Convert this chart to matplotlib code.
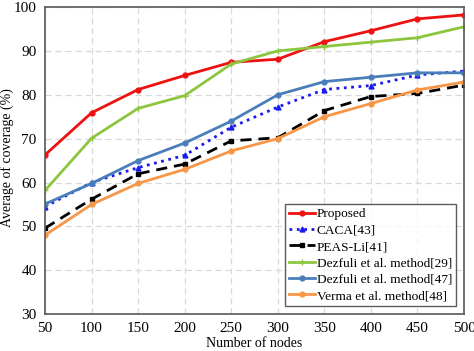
import matplotlib
matplotlib.use("Agg")
import matplotlib.pyplot as plt

plt.rcParams["font.family"] = ["Liberation Serif", "DejaVu Serif"]

nodes = [50, 100, 150, 200, 250, 300, 350, 400, 450, 500]
proposed = [66.3, 75.9, 81.2, 84.4, 87.4, 88.1, 92.1, 94.6, 97.3, 98.2]
caca = [54.5, 60.0, 63.4, 66.2, 72.6, 77.2, 81.2, 82.1, 84.5, 85.4]
peas = [49.6, 56.2, 62.0, 64.2, 69.5, 70.2, 76.4, 79.6, 80.3, 82.2]
dezfuli29 = [58.2, 70.1, 76.9, 79.8, 87.0, 90.0, 91.0, 92.0, 93.0, 95.5]
dezfuli47 = [55.1, 59.8, 65.0, 69.0, 74.0, 80.0, 83.0, 84.0, 85.0, 85.0]
verma = [48.0, 55.0, 59.8, 63.0, 67.2, 70.0, 75.0, 78.0, 81.1, 82.9]

fig = plt.figure(figsize=(4.74, 3.51), dpi=100)
ax = fig.add_axes([0.095, 0.105, 0.884, 0.875])

ax.plot(nodes, proposed, color="#ee1111", lw=2, marker="o", ms=3.5, label="Proposed")
ax.plot(nodes, caca, color="#1a1aee", lw=2, ls=":", marker="^", ms=3.5, label="CACA[43]")
ax.plot(nodes, peas, color="black", lw=2, ls=(0, (4, 2.5)), marker="s", ms=3.5, label="PEAS-Li[41]")
ax.plot(nodes, dezfuli29, color="#8cc63f", lw=2, marker="+", ms=4, label="Dezfuli et al. method[29]")
ax.plot(nodes, dezfuli47, color="#4a7ebb", lw=2, marker="o", ms=3.5, label="Dezfuli et al. method[47]")
ax.plot(nodes, verma, color="#f79646", lw=2, marker="o", ms=3.5, label="Verma et al. method[48]")

ax.set_xlim(50, 500)
ax.set_ylim(30, 100)
ax.set_xticks(nodes)
ax.set_yticks(range(30, 101, 10))
ax.grid(True, color="#d9d9d9", ls=(0, (5, 3)), lw=0.9)
ax.tick_params(labelsize=11, length=0, pad=6)
for s in ax.spines.values():
    s.set_color("#595959")
    s.set_linewidth(1.2)

ax.set_xlabel("Number of nodes", fontsize=10)
ax.set_ylabel("Average of coverage (%)", fontsize=10)
ax.xaxis.set_label_coords(0.5, -0.074)
ax.yaxis.set_label_coords(-0.074, 0.51)

leg = ax.legend(loc="lower right", fontsize=9.6, frameon=True, fancybox=False,
                edgecolor="#333333", handlelength=2.0, handletextpad=0.1,
                labelspacing=0.3, borderpad=0.3, borderaxespad=0.6)
leg.get_frame().set_linewidth(1.0)

fig.savefig("out.png", dpi=100)
